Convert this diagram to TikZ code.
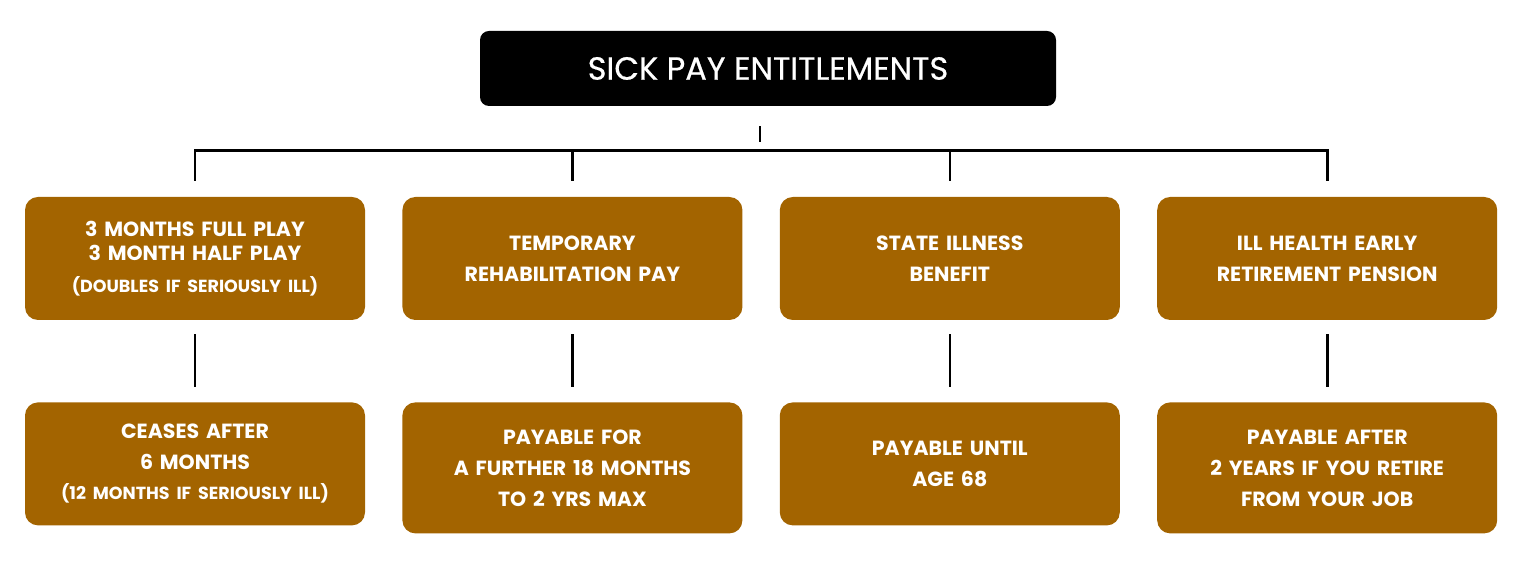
\documentclass[tikz,border=0pt]{standalone}
\usepackage{fontspec}
\setmainfont{Poppins}
\newfontfamily\headfont[FakeBold=0.6]{Poppins}
\usepackage{tikz}
\usetikzlibrary{positioning}
\definecolor{ochre}{RGB}{163,100,0}

\begin{document}
\begin{tikzpicture}[x=1pt, y=1pt,
        title/.style={rectangle, fill=black, text=white, rounded corners=9pt, minimum width=576pt, minimum height=75pt, font=\headfont\fontsize{32}{36}\selectfont},
        topbox/.style={rectangle, fill=ochre, text=white, rounded corners=13pt, text width=320pt, inner xsep=10pt, minimum height=123pt, align=center, font=\bfseries\fontsize{20.5}{31}\selectfont},
        lowbox/.style={topbox},
        link/.style={line width=2.6pt, black}
    ]
    \useasboundingbox (0,0) rectangle (1536,561);

    % title
    \node[title] (head) at (768,492.5) {SICK PAY ENTITLEMENTS};

    % top row
    \node[topbox] (full) at (195,302.5) {3 MONTHS FULL PLAY\\[-7.5pt]3 MONTH HALF PLAY\\[1pt]{\fontsize{17.5}{20}\selectfont (DOUBLES IF SERIOUSLY ILL)}};
    \node[topbox, right=37pt of full] (rehab) {TEMPORARY\\REHABILITATION PAY};
    \node[topbox, right=37pt of rehab] (state) {STATE ILLNESS\\BENEFIT};
    \node[topbox, right=37pt of state] (early) {ILL HEALTH EARLY\\RETIREMENT PENSION};

    % bottom row
    \node[lowbox, below=82pt of full] (cease) {CEASES AFTER\\6 MONTHS\\[-1pt]{\fontsize{17.5}{20}\selectfont (12 MONTHS IF SERIOUSLY ILL)}};
    \node[lowbox, minimum height=131pt, below=82pt of rehab] (further) {PAYABLE FOR\\A FURTHER 18 MONTHS\\TO 2 YRS MAX};
    \node[lowbox, below=82pt of state] (until) {PAYABLE UNTIL\\AGE 68};
    \node[lowbox, minimum height=131pt, below=82pt of early] (after) {PAYABLE AFTER\\2 YEARS IF YOU RETIRE\\FROM YOUR JOB};

    % lines
    \draw[link] ([xshift=-8pt,yshift=-20pt]head.south) -- ++(0,-16);
    \draw[link] ([yshift=16pt]full.north) -- ++(0,30) -| ([yshift=16pt]early.north);
    \draw[link] ([yshift=16pt]rehab.north) -- ++(0,30);
    \draw[link] ([yshift=16pt]state.north) -- ++(0,30);
    \draw[link] ([yshift=-14pt]full.south) -- ([yshift=15pt]cease.north);
    \draw[link] ([yshift=-14pt]rehab.south) -- ([yshift=15pt]further.north);
    \draw[link] ([yshift=-14pt]state.south) -- ([yshift=15pt]until.north);
    \draw[link] ([yshift=-14pt]early.south) -- ([yshift=15pt]after.north);

\end{tikzpicture}
\end{document}
